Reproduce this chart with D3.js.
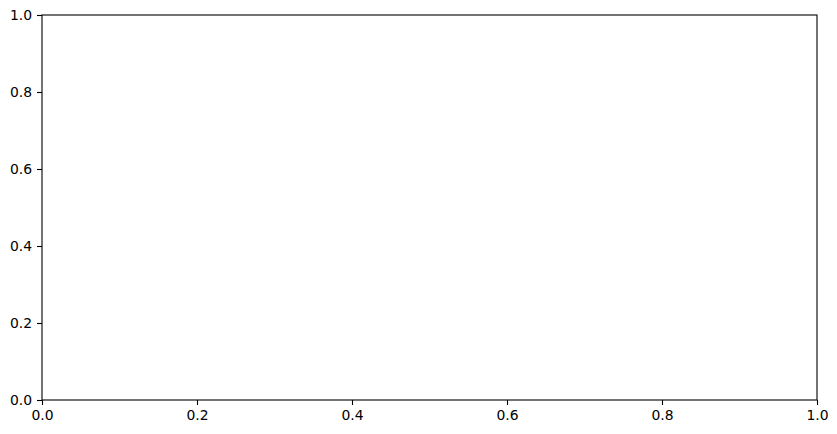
<!DOCTYPE html>
<html>
<head>
<meta charset="utf-8">
<script src="https://cdn.jsdelivr.net/npm/d3@7"></script>
<style>
  body { margin: 0; background: #fff; }
  svg { display: block; font-family: "DejaVu Sans", sans-serif; }
</style>
</head>
<body>
<svg id="chart" width="837" height="434"></svg>
<script>
// empty axes, default 0..1 range on both sides
var xDomain = [0, 1];
var yDomain = [0, 1];
var xTicks = [0, 0.2, 0.4, 0.6, 0.8, 1.0];
var yTicks = [0, 0.2, 0.4, 0.6, 0.8, 1.0];

var margin = {top: 15, right: 20, bottom: 34, left: 42},
    width = 837 - margin.left - margin.right,
    height = 434 - margin.top - margin.bottom;

var svg = d3.select("#chart")
    .append("g")
    .attr("transform", "translate(" + margin.left + "," + margin.top + ")");

var x = d3.scaleLinear().domain(xDomain).range([0, width]);
var y = d3.scaleLinear().domain(yDomain).range([height, 0]);

var xAxis = svg.append("g")
    .attr("transform", "translate(0," + height + ")")
    .call(d3.axisBottom(x).tickValues(xTicks).tickFormat(d3.format(".1f")).tickSize(5).tickPadding(5));

var yAxis = svg.append("g")
    .call(d3.axisLeft(y).tickValues(yTicks).tickFormat(d3.format(".1f")).tickSize(5).tickPadding(5));

[xAxis, yAxis].forEach(function(g) {
    g.select(".domain").remove();
    g.selectAll(".tick line").attr("stroke", "#000").attr("stroke-width", 1.1);
    g.selectAll(".tick text")
        .attr("fill", "#000")
        .style("font-size", "13.9px")
        .style("font-family", "DejaVu Sans");
});

// frame
svg.append("rect")
    .attr("x", 0)
    .attr("y", 0)
    .attr("width", width)
    .attr("height", height)
    .attr("fill", "none")
    .attr("stroke", "#000")
    .attr("stroke-width", 1.1);
</script>
</body>
</html>
